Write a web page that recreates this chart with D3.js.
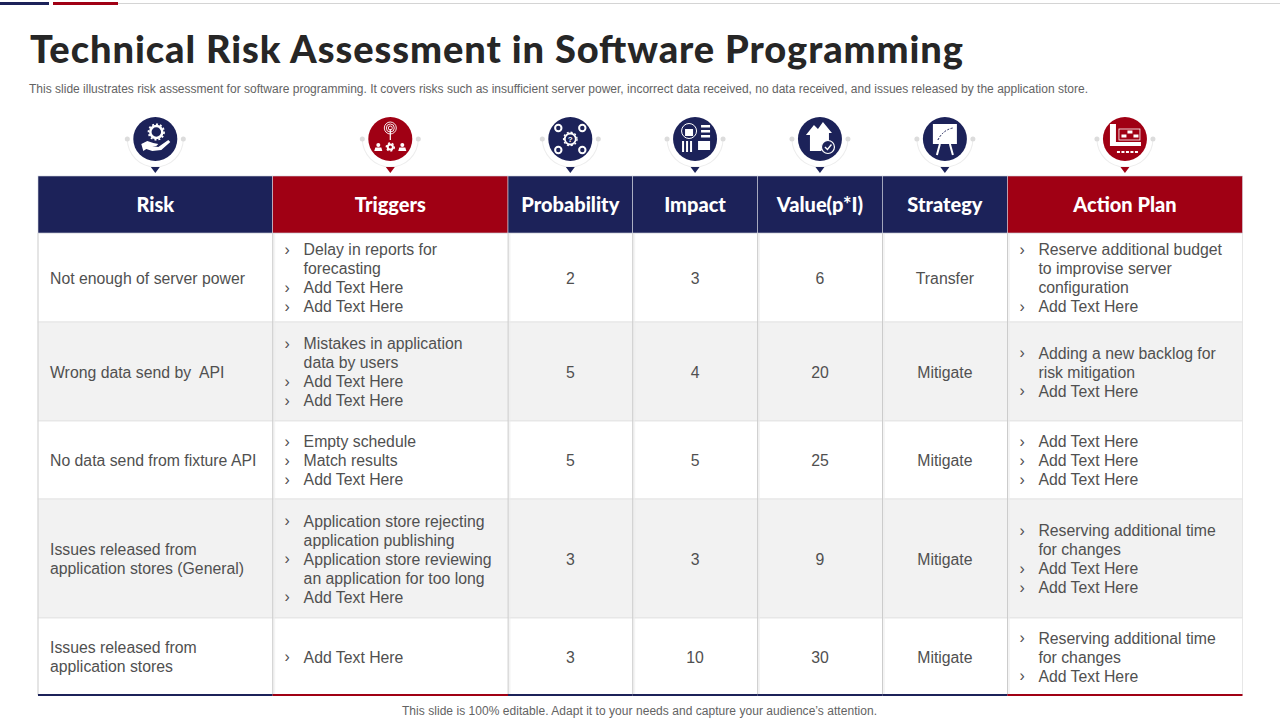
<!DOCTYPE html>
<html>
<head>
<meta charset="utf-8">
<script src="https://cdn.jsdelivr.net/npm/d3@7"></script>
<style>
  html, body { margin: 0; padding: 0; background: #fff; }
  svg { display: block; }
  text { white-space: pre; }
</style>
</head>
<body>
<div id="chart"></div>
<script>
const titleText = 'Technical Risk Assessment in Software Programming';
const subtitleText = 'This slide illustrates risk assessment for software programming. It covers risks such as insufficient server power, incorrect data received, no data received, and issues released by the application store.';
const footerText = 'This slide is 100% editable. Adapt it to your needs and capture your audience\u2019s attention.';

const columns = ['Risk', 'Triggers', 'Probability', 'Impact', 'Value(p*I)', 'Strategy', 'Action Plan'];
const redColumns = ['Triggers', 'Action Plan'];

const risks = [
  ['Not enough of server power'],
  ['Wrong data send by  API'],
  ['No data send from fixture API'],
  ['Issues released from', 'application stores (General)'],
  ['Issues released from', 'application stores'],
];
const triggers = [
  [['Delay in reports for', 'forecasting'], ['Add Text Here'], ['Add Text Here']],
  [['Mistakes in application', 'data by users'], ['Add Text Here'], ['Add Text Here']],
  [['Empty schedule'], ['Match results'], ['Add Text Here']],
  [['Application store rejecting', 'application publishing'], ['Application store reviewing', 'an application for too long'], ['Add Text Here']],
  [['Add Text Here']],
];
const probability = [2, 5, 5, 3, 3];
const impact = [3, 4, 5, 3, 10];
const value = [6, 20, 25, 9, 30];
const strategy = ['Transfer', 'Mitigate', 'Mitigate', 'Mitigate', 'Mitigate'];
const actionPlan = [
  [['Reserve additional budget', 'to improvise server', 'configuration'], ['Add Text Here']],
  [['Adding a new backlog for', 'risk mitigation'], ['Add Text Here']],
  [['Add Text Here'], ['Add Text Here'], ['Add Text Here']],
  [['Reserving additional time', 'for changes'], ['Add Text Here'], ['Add Text Here']],
  [['Reserving additional time', 'for changes'], ['Add Text Here']],
];

const NAVY = '#1c2259';
const RED = '#a00014';
const TEXT = '#505050';
const BODY_FONT = '"Liberation Sans", Arial, sans-serif';
const HEAD_FONT = 'Lato, sans-serif';
const LINE = 19;

const svg = d3.select('#chart').append('svg').attr('width', 1280).attr('height', 720);

// column and row edges, the columns are not equal so band scales do not fit
const xLeft = d3.scaleOrdinal().domain(columns).range([38, 272.6, 508, 632.6, 757.5, 882.4, 1007.4]);
const xRight = d3.scaleOrdinal().domain(columns).range([272.6, 508, 632.6, 757.5, 882.4, 1007.4, 1242.5]);
const xMid = (c) => (xLeft(c) + xRight(c)) / 2;
const rowIds = d3.range(risks.length);
const yTop = d3.scaleOrdinal().domain(rowIds).range([233, 322, 421, 499, 618]);
const yBottom = d3.scaleOrdinal().domain(rowIds).range([322, 421, 499, 618, 695]);
const yMid = (r) => (yTop(r) + yBottom(r)) / 2;
const headColor = (c) => (redColumns.includes(c) ? RED : NAVY);

// Top rule
svg.append('rect').attr('x', 118).attr('y', 3).attr('width', 1162).attr('height', 1).attr('fill', '#d4d4d4');
svg.append('rect').attr('x', 0).attr('y', 2).attr('width', 49).attr('height', 3).attr('fill', NAVY);
svg.append('rect').attr('x', 53).attr('y', 2).attr('width', 65).attr('height', 3).attr('fill', RED);

// Title block
svg.append('text')
  .attr('x', 30).attr('y', 63)
  .attr('font-family', HEAD_FONT).attr('font-weight', 900).attr('font-size', 38)
  .attr('fill', '#262626')
  .attr('textLength', 933).attr('lengthAdjust', 'spacing')
  .text(titleText);
svg.append('text')
  .attr('x', 29).attr('y', 92.5)
  .attr('font-family', BODY_FONT).attr('font-size', 12)
  .attr('fill', '#636363')
  .attr('textLength', 1059).attr('lengthAdjust', 'spacing')
  .text(subtitleText);

// Row backgrounds
svg.append('g').selectAll('rect')
  .data(rowIds)
  .enter()
  .append('rect')
  .attr('x', xLeft('Risk'))
  .attr('y', (r) => yTop(r))
  .attr('width', xRight('Action Plan') - xLeft('Risk'))
  .attr('height', (r) => yBottom(r) - yTop(r))
  .attr('fill', (r) => (r % 2 ? '#f2f2f2' : '#ffffff'))
  .attr('stroke', '#e2e2e2')
  .attr('stroke-width', 0.8);

// Soft column separators
const separators = svg.append('g');
columns.slice(1).forEach((c) => {
  separators.append('rect').attr('x', xLeft(c)).attr('y', 233).attr('width', 2.5).attr('height', 462).attr('fill', '#ececec').attr('opacity', 0.6);
  separators.append('rect').attr('x', xLeft(c) - 0.4).attr('y', 233).attr('width', 1).attr('height', 462).attr('fill', '#cccccc');
});
separators.append('rect').attr('x', 37.6).attr('y', 233).attr('width', 0.8).attr('height', 462).attr('fill', '#cfcfcf');

// Header cells
const head = svg.append('g').selectAll('g')
  .data(columns)
  .enter()
  .append('g');
head.append('rect')
  .attr('x', (c) => xLeft(c))
  .attr('y', 176)
  .attr('width', (c) => xRight(c) - xLeft(c))
  .attr('height', 57)
  .attr('fill', headColor)
  .attr('stroke', '#d0d3de')
  .attr('stroke-width', 0.6);
head.append('text')
  .attr('x', xMid)
  .attr('y', 212)
  .attr('text-anchor', 'middle')
  .attr('font-family', HEAD_FONT)
  .attr('font-weight', 900)
  .attr('font-size', 20)
  .attr('fill', '#ffffff')
  .text((c) => c);

// Bottom rule picks up the header colour
svg.append('g').selectAll('rect')
  .data(columns)
  .enter()
  .append('rect')
  .attr('x', (c) => xLeft(c))
  .attr('y', 694)
  .attr('width', (c) => xRight(c) - xLeft(c))
  .attr('height', 2)
  .attr('fill', headColor);

// Badge above each header
const arc = d3.arc()
  .innerRadius(27.5).outerRadius(28.5)
  .startAngle(Math.PI / 2).endAngle(Math.PI * 1.5);

const gear = (g, x, y, r, width) => {
  g.append('circle').attr('cx', x).attr('cy', y).attr('r', r).attr('fill', 'none').attr('stroke', '#fff').attr('stroke-width', width);
  g.append('circle').attr('cx', x).attr('cy', y).attr('r', r + width * 0.7).attr('fill', 'none').attr('stroke', '#fff').attr('stroke-width', width * 0.7).attr('stroke-dasharray', '2 2');
};

const glyphs = {
  Risk(g) {
    gear(g, 1, -7, 6, 2.5);
    g.append('path').attr('d', 'M-14,5 L-8,2 L-2,4 L3,5 L1,7 L-3,7 L3,8 L13,1 L15,3 L6,11 L-3,12 L-9,10 L-12,12 Z').attr('fill', '#fff');
  },
  Triggers(g) {
    [6, 4, 2].forEach((r) => g.append('circle').attr('cy', -11).attr('r', r).attr('fill', 'none').attr('stroke', '#fff').attr('stroke-width', 0.9));
    g.append('rect').attr('x', -0.6).attr('y', -10).attr('width', 1.2).attr('height', 11).attr('fill', '#fff');
    gear(g, 0, 8, 2.6, 2);
    [-12, 12].forEach((x) => {
      g.append('circle').attr('cx', x).attr('cy', 6).attr('r', 2).attr('fill', '#fff');
      g.append('path').attr('d', `M${x - 4},12 L${x - 3},8.5 L${x + 3},8.5 L${x + 4},12 Z`).attr('fill', '#fff');
    });
  },
  Probability(g) {
    gear(g, 0, 0, 5.5, 1.8);
    g.append('text').attr('y', 3).attr('text-anchor', 'middle').attr('font-size', 8).attr('font-family', BODY_FONT).attr('font-weight', 700).attr('fill', '#fff').text('?');
    [[-12, -11], [12, -11], [-12, 11], [12, 11]].forEach(([x, y]) => {
      g.append('circle').attr('cx', x).attr('cy', y).attr('r', 3.2).attr('fill', 'none').attr('stroke', '#fff').attr('stroke-width', 2);
    });
  },
  Impact(g) {
    g.append('circle').attr('cx', -6).attr('cy', -8).attr('r', 7.5).attr('fill', 'none').attr('stroke', '#fff').attr('stroke-width', 1);
    g.append('rect').attr('x', -10).attr('y', -10).attr('width', 8).attr('height', 7).attr('fill', '#fff');
    [-14, -9, -4].forEach((y) => g.append('rect').attr('x', 6).attr('y', y).attr('width', 9).attr('height', 2.5).attr('fill', '#fff'));
    g.append('rect').attr('x', 3).attr('y', 2).attr('width', 12).attr('height', 9).attr('fill', '#fff');
    [-13, -9, -5].forEach((x) => g.append('rect').attr('x', x).attr('y', 2).attr('width', 2).attr('height', 11).attr('fill', '#fff'));
  },
  'Value(p*I)': (g) => {
    g.append('path').attr('d', 'M-14,-4 L-6,-14 L-2,-10 L3,-17 L12,-6 L9,-6 L9,3 L1,12 L-10,12 L-10,-4 Z').attr('fill', '#fff');
    g.append('circle').attr('cx', 8).attr('cy', 8).attr('r', 6.5).attr('fill', NAVY).attr('stroke', '#fff').attr('stroke-width', 1.2);
    g.append('path').attr('d', 'M5,8 L7.5,10.5 L11.5,5.5').attr('fill', 'none').attr('stroke', '#fff').attr('stroke-width', 1.4);
  },
  Strategy(g) {
    g.append('rect').attr('x', -12).attr('y', -15).attr('width', 24).attr('height', 20).attr('fill', '#fff');
    g.append('path').attr('d', 'M-7,1 Q-2,-9 8,-11').attr('fill', 'none').attr('stroke', NAVY).attr('stroke-width', 1).attr('stroke-dasharray', '2 1.5');
    g.append('path').attr('d', 'M-5,5 L-8,16 M5,5 L8,16').attr('stroke', '#fff').attr('stroke-width', 2);
  },
  'Action Plan': (g) => {
    g.append('path').attr('d', 'M-15,-15 L-9,-15 L-9,3 L16,3 L16,7 L-15,7 Z').attr('fill', '#fff');
    g.append('rect').attr('x', -6).attr('y', -10).attr('width', 21).attr('height', 11).attr('fill', 'none').attr('stroke', '#fff').attr('stroke-width', 0.8);
    [[-1, -3], [5, -7], [11, -3]].forEach(([x, y]) => g.append('rect').attr('x', x - 2.5).attr('y', y - 1.5).attr('width', 5).attr('height', 3).attr('fill', '#fff'));
    g.append('path').attr('d', 'M-8,13 L14,13').attr('stroke', '#fff').attr('stroke-width', 2).attr('stroke-dasharray', '3 1.5');
  },
};

columns.forEach((c) => {
  const badge = svg.append('g').attr('transform', `translate(${xMid(c)},139)`);
  badge.append('path').attr('d', arc()).attr('fill', '#ededed');
  [-28, 28].forEach((x) => {
    badge.append('circle').attr('cx', x).attr('cy', 0).attr('r', 2.5).attr('fill', '#dcdcdc');
  });
  badge.append('circle').attr('r', 22).attr('fill', headColor(c));
  glyphs[c](badge.append('g'));
  badge.append('path').attr('d', 'M-4.5,28 L4.5,28 L0,34 Z').attr('fill', headColor(c));
});

// Plain text cell, lines stacked around the row middle
function drawLines(g, lines, x, r, anchor) {
  const top = yMid(r) - ((lines.length - 1) * LINE) / 2;
  lines.forEach((line, i) => {
    g.append('text')
      .attr('x', x)
      .attr('y', top + i * LINE + 6)
      .attr('text-anchor', anchor)
      .attr('font-family', BODY_FONT)
      .attr('font-size', 15.8)
      .attr('fill', TEXT)
      .text(line);
  });
}

// Bulleted cell, one chevron per item
function drawBullets(g, items, c, r) {
  const total = d3.sum(items, (d) => d.length);
  let y = yMid(r) - ((total - 1) * LINE) / 2 + 6;
  items.forEach((item) => {
    g.append('text')
      .attr('x', xLeft(c) + 12)
      .attr('y', y - 0.5)
      .attr('font-family', BODY_FONT)
      .attr('font-size', 15.8)
      .attr('fill', TEXT)
      .text('\u203A');
    item.forEach((line) => {
      g.append('text')
        .attr('x', xLeft(c) + 31)
        .attr('y', y)
        .attr('font-family', BODY_FONT)
        .attr('font-size', 15.8)
        .attr('fill', TEXT)
        .text(line);
      y += LINE;
    });
  });
}

const body = svg.append('g');
rowIds.forEach((r) => {
  drawLines(body, risks[r], xLeft('Risk') + 12, r, 'start');
  drawBullets(body, triggers[r], 'Triggers', r);
  drawLines(body, [String(probability[r])], xMid('Probability'), r, 'middle');
  drawLines(body, [String(impact[r])], xMid('Impact'), r, 'middle');
  drawLines(body, [String(value[r])], xMid('Value(p*I)'), r, 'middle');
  drawLines(body, [strategy[r]], xMid('Strategy'), r, 'middle');
  drawBullets(body, actionPlan[r], 'Action Plan', r);
});

// Footer
svg.append('text')
  .attr('x', 639.5).attr('y', 715)
  .attr('text-anchor', 'middle')
  .attr('font-family', BODY_FONT).attr('font-size', 12)
  .attr('fill', '#636363')
  .attr('textLength', 475).attr('lengthAdjust', 'spacing')
  .text(footerText);
</script>
</body>
</html>
